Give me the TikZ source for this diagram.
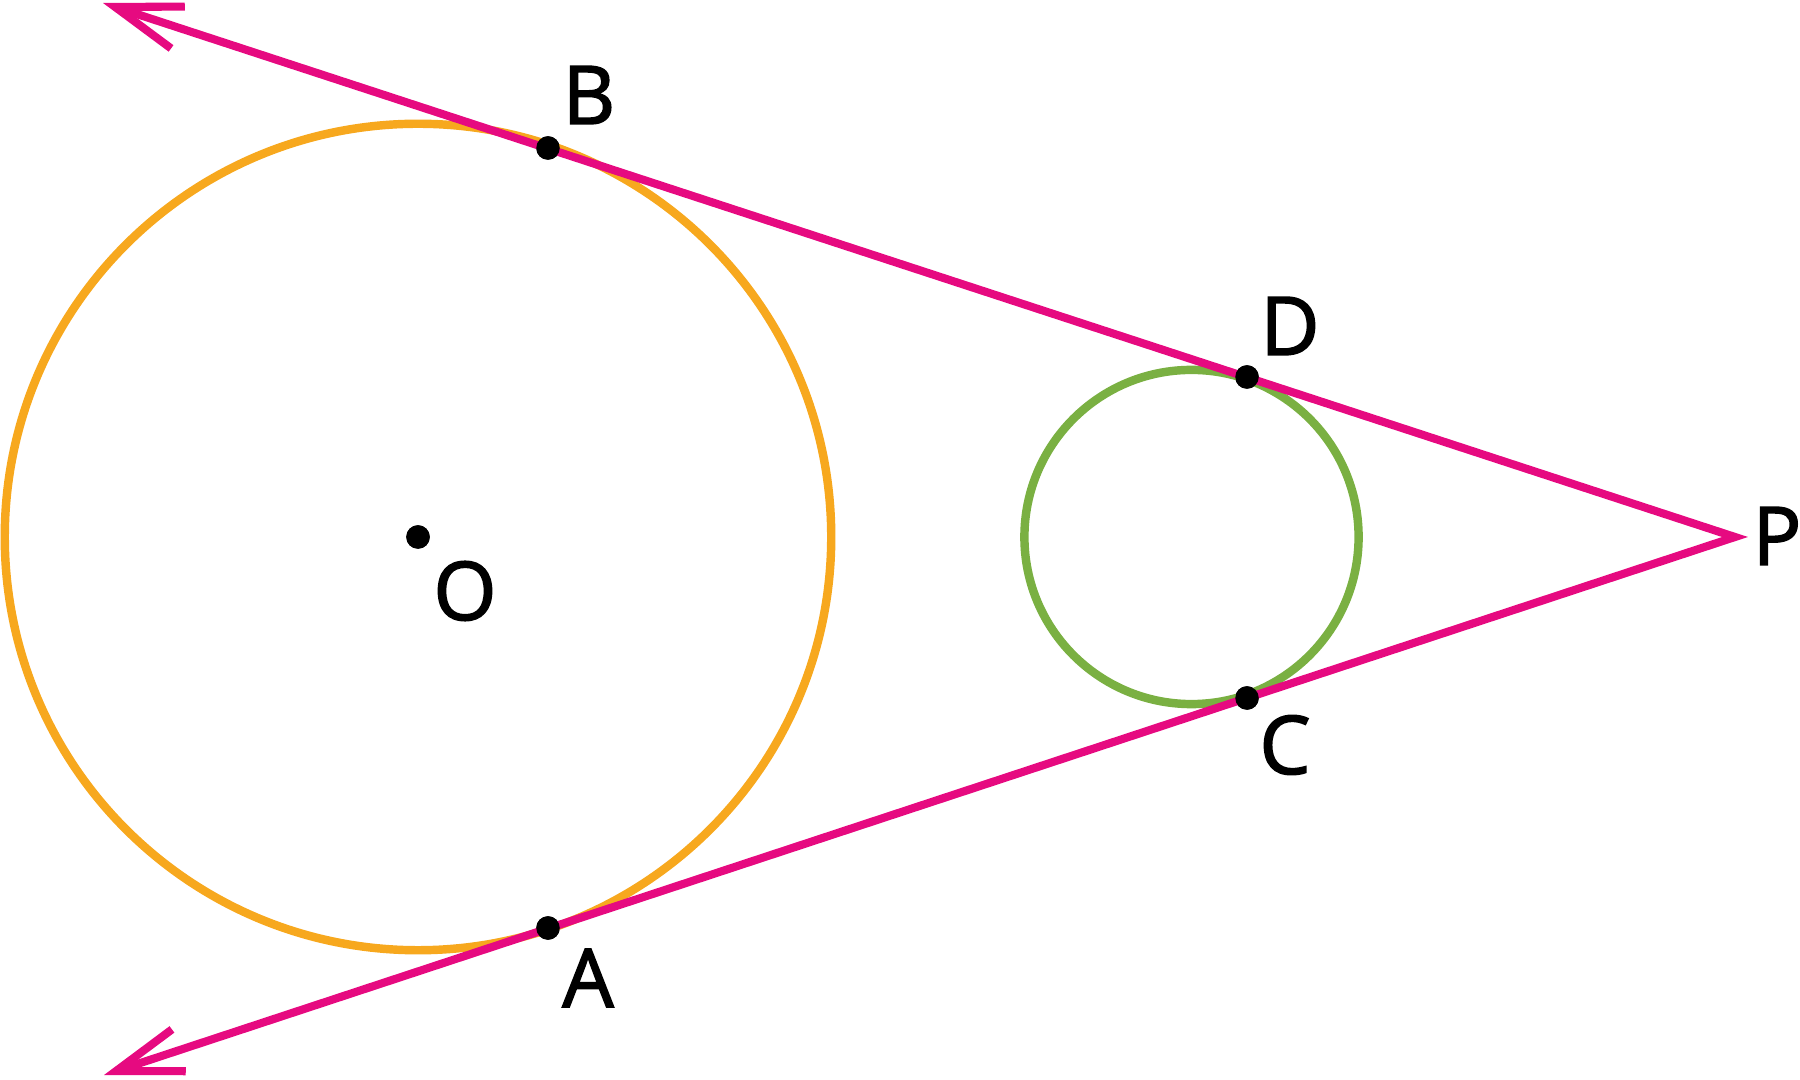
\documentclass[tikz,border=0pt]{standalone}
\usepackage{fontspec}
\setmainfont{Open Sans}
\newfontfamily\pointfont[FakeBold=2]{Open Sans}
\usetikzlibrary{arrows.meta}

\definecolor{tangentpink}{RGB}{230,10,128}
\definecolor{bigorange}{RGB}{247,168,30}
\definecolor{smallgreen}{RGB}{122,176,66}

\tikzset{%
  every point/.style={
    circle,
    fill=black,
    inner sep=0pt,
    minimum size=0.235cm
  },
  point label/.style={
    font=\fontsize{23}{27}\pointfont,
    inner sep=0pt
  },
  tangent line/.style={
    draw=tangentpink,
    line width=2.3pt,
    line join=miter
  },
}

\begin{document}
\begin{tikzpicture}[x=0.01cm, y=-0.01cm, >={Straight Barb[length=0.66cm, width=0.44cm]}]
\useasboundingbox (0,0) rectangle (1800,1080);


% Punkte
\node [every point] (O) at (418,537) {};
\node [every point] (B) at (548,148) {};
\node [every point] (A) at (548,928) {};
\node [every point] (D) at (1247,377) {};
\node [every point] (C) at (1247,698) {};
\coordinate (P) at (1735,537);
\coordinate (endB) at (103,3);
\coordinate (endA) at (104,1075);
\coordinate (Q) at (1191.5,537);


% Kreise
\draw [bigorange, line width=2.4pt] (O) circle [radius=4.13cm];
\draw [smallgreen, line width=2.4pt] (Q) circle [radius=1.67cm];


% Tangenten
\draw [tangent line, <->] (endB) -- (P) -- (endA);


% Punkte oben
\foreach \p in {O,B,A,D,C}
  \node [every point] at (\p) {};


% Beschriftungen
\node [point label] (label-B) at (589,95) {B};
\node [point label] (label-D) at (1290,326) {D};
\node [point label] (label-C) at (1285,745) {C};
\node [point label] (label-A) at (588,978) {A};
\node [point label] (label-O) at (465,591) {O};
\node [point label] (label-P) at (1777,536) {P};

\end{tikzpicture}
\end{document}
